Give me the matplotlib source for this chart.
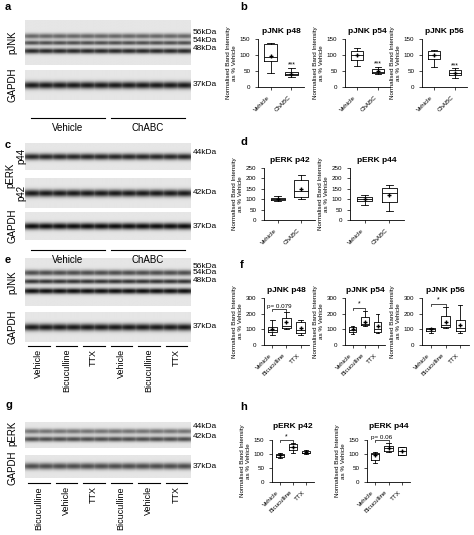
import numpy as np
import matplotlib.pyplot as plt

W, H = 474, 535
fig = plt.figure(figsize=(W / 100, H / 100), dpi=100)
plt.rcParams['font.family'] = ['Liberation Sans', 'DejaVu Sans']


def ax_px(x0, y0, x1, y1):
    return fig.add_axes([x0 / W, 1 - y1 / H, (x1 - x0) / W, (y1 - y0) / H])


# box stats: whislo, q1, med, q3, whishi, mean
b_names = ['pJNK p48', 'pJNK p54', 'pJNK p56']
b_groups = ['Vehicle', 'ChABC']
b_stats = [
    [[45, 80, 93, 135, 137, 98], [30, 38, 42, 47, 60, 42]],
    [[65, 85, 100, 112, 122, 100], [40, 44, 48, 57, 62, 50]],
    [[62, 88, 100, 112, 115, 100], [28, 37, 45, 52, 58, 45]],
]
d_names = ['pERK p42', 'pERK p44']
d_stats = [
    [[90, 95, 100, 105, 115, 100], [100, 110, 140, 190, 215, 150]],
    [[70, 90, 100, 110, 120, 100], [45, 85, 130, 155, 170, 120]],
]
f_names = ['pJNK p48', 'pJNK p54', 'pJNK p56']
f_groups = ['Vehicle', 'Bicuculline', 'TTX']
f_stats = [
    [[65, 80, 95, 115, 160, 100], [105, 110, 120, 170, 210, 145], [65, 75, 95, 150, 160, 110]],
    [[70, 80, 95, 115, 120, 100], [120, 125, 135, 180, 220, 145], [75, 80, 100, 150, 200, 120]],
    [[75, 90, 100, 110, 110, 100], [110, 115, 125, 185, 245, 150], [75, 90, 110, 160, 255, 130]],
]
f_sig = ['p= 0.079', '*', '*']
h_names = ['pERK p42', 'pERK p44']
h_stats = [
    [[85, 90, 95, 100, 103, 95], [105, 115, 125, 137, 140, 125], [100, 102, 105, 110, 113, 106]],
    [[68, 78, 100, 105, 107, 95], [107, 110, 120, 130, 140, 120], [95, 97, 110, 125, 125, 110]],
]
h_sig = ['*', 'p= 0.06']


def boxpanel(box, title, groups, stats, ymax, ystep, sig=None, stars=None, tpad=4):
    ax = ax_px(*box)
    bx = [dict(whislo=s[0], q1=s[1], med=s[2], q3=s[3], whishi=s[4], mean=s[5],
               fliers=[]) for s in stats]
    ax.bxp(bx, showmeans=True, widths=0.6,
           boxprops=dict(lw=0.6), medianprops=dict(color='k', lw=0.6),
           whiskerprops=dict(lw=0.6), capprops=dict(lw=0.6),
           meanprops=dict(marker='+', markeredgecolor='k', markersize=3))
    ax.set_ylim(0, ymax)
    ax.set_xlim(0.4, len(stats) + 0.6)
    ax.set_yticks(np.arange(0, ymax + 1, ystep))
    ax.set_xticks(range(1, len(stats) + 1))
    ax.set_xticklabels(groups, rotation=45, ha='right', fontsize=4.5)
    ax.tick_params(axis='y', labelsize=4.5, length=2, width=0.5)
    ax.tick_params(axis='x', length=2, width=0.5)
    for s in ['top', 'right']:
        ax.spines[s].set_visible(False)
    for s in ['left', 'bottom']:
        ax.spines[s].set_linewidth(0.6)
    ax.set_title(title, fontsize=6, fontweight='bold', pad=tpad)
    ax.set_ylabel('Normalised Band Intensity\nas % Vehicle', fontsize=4.5, labelpad=2)
    if stars:
        ax.text(2, stats[1][4] + ymax * 0.03, stars, ha='center', fontsize=5)
    if sig:
        top = max(stats[0][4], stats[1][4]) + ymax * 0.06
        ax.plot([1, 1, 2, 2], [top - ymax * 0.04, top, top, top - ymax * 0.04],
                color='k', lw=0.5, clip_on=False)
        ax.text(1.5, top + ymax * 0.005, sig, ha='center', va='bottom',
                fontsize=5 if sig == '*' else 4.5)
    return ax


def blot(box, bands, nlanes):
    ax = ax_px(*box)
    h, w = 60, 300
    y = np.arange(h)[:, None]
    x = np.arange(w)[None, :]
    img = np.full((h, w), 0.9)
    lane = 0.75 + 0.25 * np.abs(np.sin(np.pi * x * nlanes / w)) ** 0.5
    for c, width, dark in bands:
        img -= dark * lane * np.exp(-((y - c * h) / (width * h)) ** 2)
    ax.imshow(np.clip(img, 0, 1), cmap='gray', vmin=0, vmax=1, aspect='auto')
    ax.set_xticks([])
    ax.set_yticks([])
    for s in ax.spines.values():
        s.set_visible(False)
    return ax


def label(x, y, t):
    fig.text(x / W, 1 - y / H, t, fontsize=8, fontweight='bold', va='top')


def kda(x, y, t):
    fig.text(x / W, 1 - y / H, t, fontsize=6, va='center')


def side(x, y, t):
    fig.text(x / W, 1 - y / H, t, fontsize=7, rotation=90, ha='center', va='center')


def lanes_h(y, x0, x1, names):
    n = len(names)
    seg = (x1 - x0) / n
    for i, t in enumerate(names):
        a = x0 + i * seg + 3
        b = x0 + (i + 1) * seg - 3
        fig.add_artist(plt.Line2D([a / W, b / W], [1 - y / H] * 2, color='k', lw=0.8))
        fig.text((a + b) / 2 / W, 1 - (y + 5) / H, t, fontsize=7, ha='center', va='top')


def lanes_rot(y, x0, x1, names):
    n = len(names)
    seg = (x1 - x0) / n
    for i, t in enumerate(names):
        a = x0 + i * seg + 3
        b = x0 + (i + 1) * seg - 3
        fig.add_artist(plt.Line2D([a / W, b / W], [1 - y / H] * 2, color='k', lw=0.8))
        fig.text((a + b) / 2 / W, 1 - (y + 3) / H, t, fontsize=6.5, ha='center',
                 va='top', rotation=90)


# panel a
label(5, 2, 'a')
blot((25, 20, 190, 65), [(0.35, 0.06, 0.5), (0.5, 0.05, 0.6), (0.68, 0.06, 0.75)], 12)
blot((25, 70, 190, 100), [(0.5, 0.12, 0.8)], 12)
kda(193, 33, '56kDa'); kda(193, 41, '54kDa'); kda(193, 49, '48kDa'); kda(193, 85, '37kDa')
side(12, 42, 'pJNK'); side(12, 85, 'GAPDH')
lanes_h(118, 28, 188, ['Vehicle', 'ChABC'])

# panel b
label(240, 2, 'b')
for i, box in enumerate([(258, 39, 304, 87), (345, 39, 390, 87), (422, 39, 467, 87)]):
    boxpanel(box, b_names[i], b_groups, b_stats[i], 150, 50, stars='***')

# panel c
label(5, 140, 'c')
blot((25, 143, 190, 170), [(0.5, 0.12, 0.75)], 12)
blot((25, 178, 190, 208), [(0.5, 0.12, 0.8)], 12)
blot((25, 212, 190, 240), [(0.5, 0.12, 0.85)], 12)
kda(193, 152, '44kDa'); kda(193, 193, '42kDa'); kda(193, 226, '37kDa')
side(10, 175, 'pERK'); side(21, 156, 'p44'); side(21, 193, 'p42'); side(12, 226, 'GAPDH')
lanes_h(250, 28, 188, ['Vehicle', 'ChABC'])

# panel d
label(240, 137, 'd')
for i, box in enumerate([(264, 168, 315, 220), (350, 168, 404, 220)]):
    boxpanel(box, d_names[i], b_groups, d_stats[i], 250, 50)

# panel e
label(5, 255, 'e')
blot((25, 258, 190, 306), [(0.3, 0.06, 0.6), (0.48, 0.05, 0.7), (0.68, 0.06, 0.85)], 12)
blot((25, 312, 190, 342), [(0.5, 0.12, 0.8)], 12)
kda(193, 266, '56kDa'); kda(193, 273, '54kDa'); kda(193, 281, '48kDa'); kda(193, 326, '37kDa')
side(12, 282, 'pJNK'); side(12, 327, 'GAPDH')
lanes_rot(346, 25, 190, ['Vehicle', 'Bicuculline', 'TTX', 'Vehicle', 'Bicuculline', 'TTX'])

# panel f
label(240, 260, 'f')
for i, box in enumerate([(264, 298, 309, 345), (345, 298, 385, 345), (422, 298, 469, 345)]):
    boxpanel(box, f_names[i], f_groups, f_stats[i], 300, 100, sig=f_sig[i])

# panel g
label(5, 400, 'g')
blot((25, 422, 190, 448), [(0.35, 0.1, 0.45), (0.65, 0.1, 0.6)], 12)
blot((25, 455, 190, 478), [(0.5, 0.14, 0.6)], 12)
kda(193, 427, '44kDa'); kda(193, 436, '42kDa'); kda(193, 466, '37kDa')
side(12, 433, 'pERK'); side(12, 468, 'GAPDH')
lanes_rot(483, 25, 190, ['Bicuculline', 'Vehicle', 'TTX', 'Bicuculline', 'Vehicle', 'TTX'])

# panel h
label(240, 402, 'h')
for i, box in enumerate([(272, 440, 314, 482), (367, 440, 410, 482)]):
    boxpanel(box, h_names[i], f_groups, h_stats[i], 150, 50, sig=h_sig[i], tpad=9)

fig.savefig('out.png', dpi=100, facecolor='white')
